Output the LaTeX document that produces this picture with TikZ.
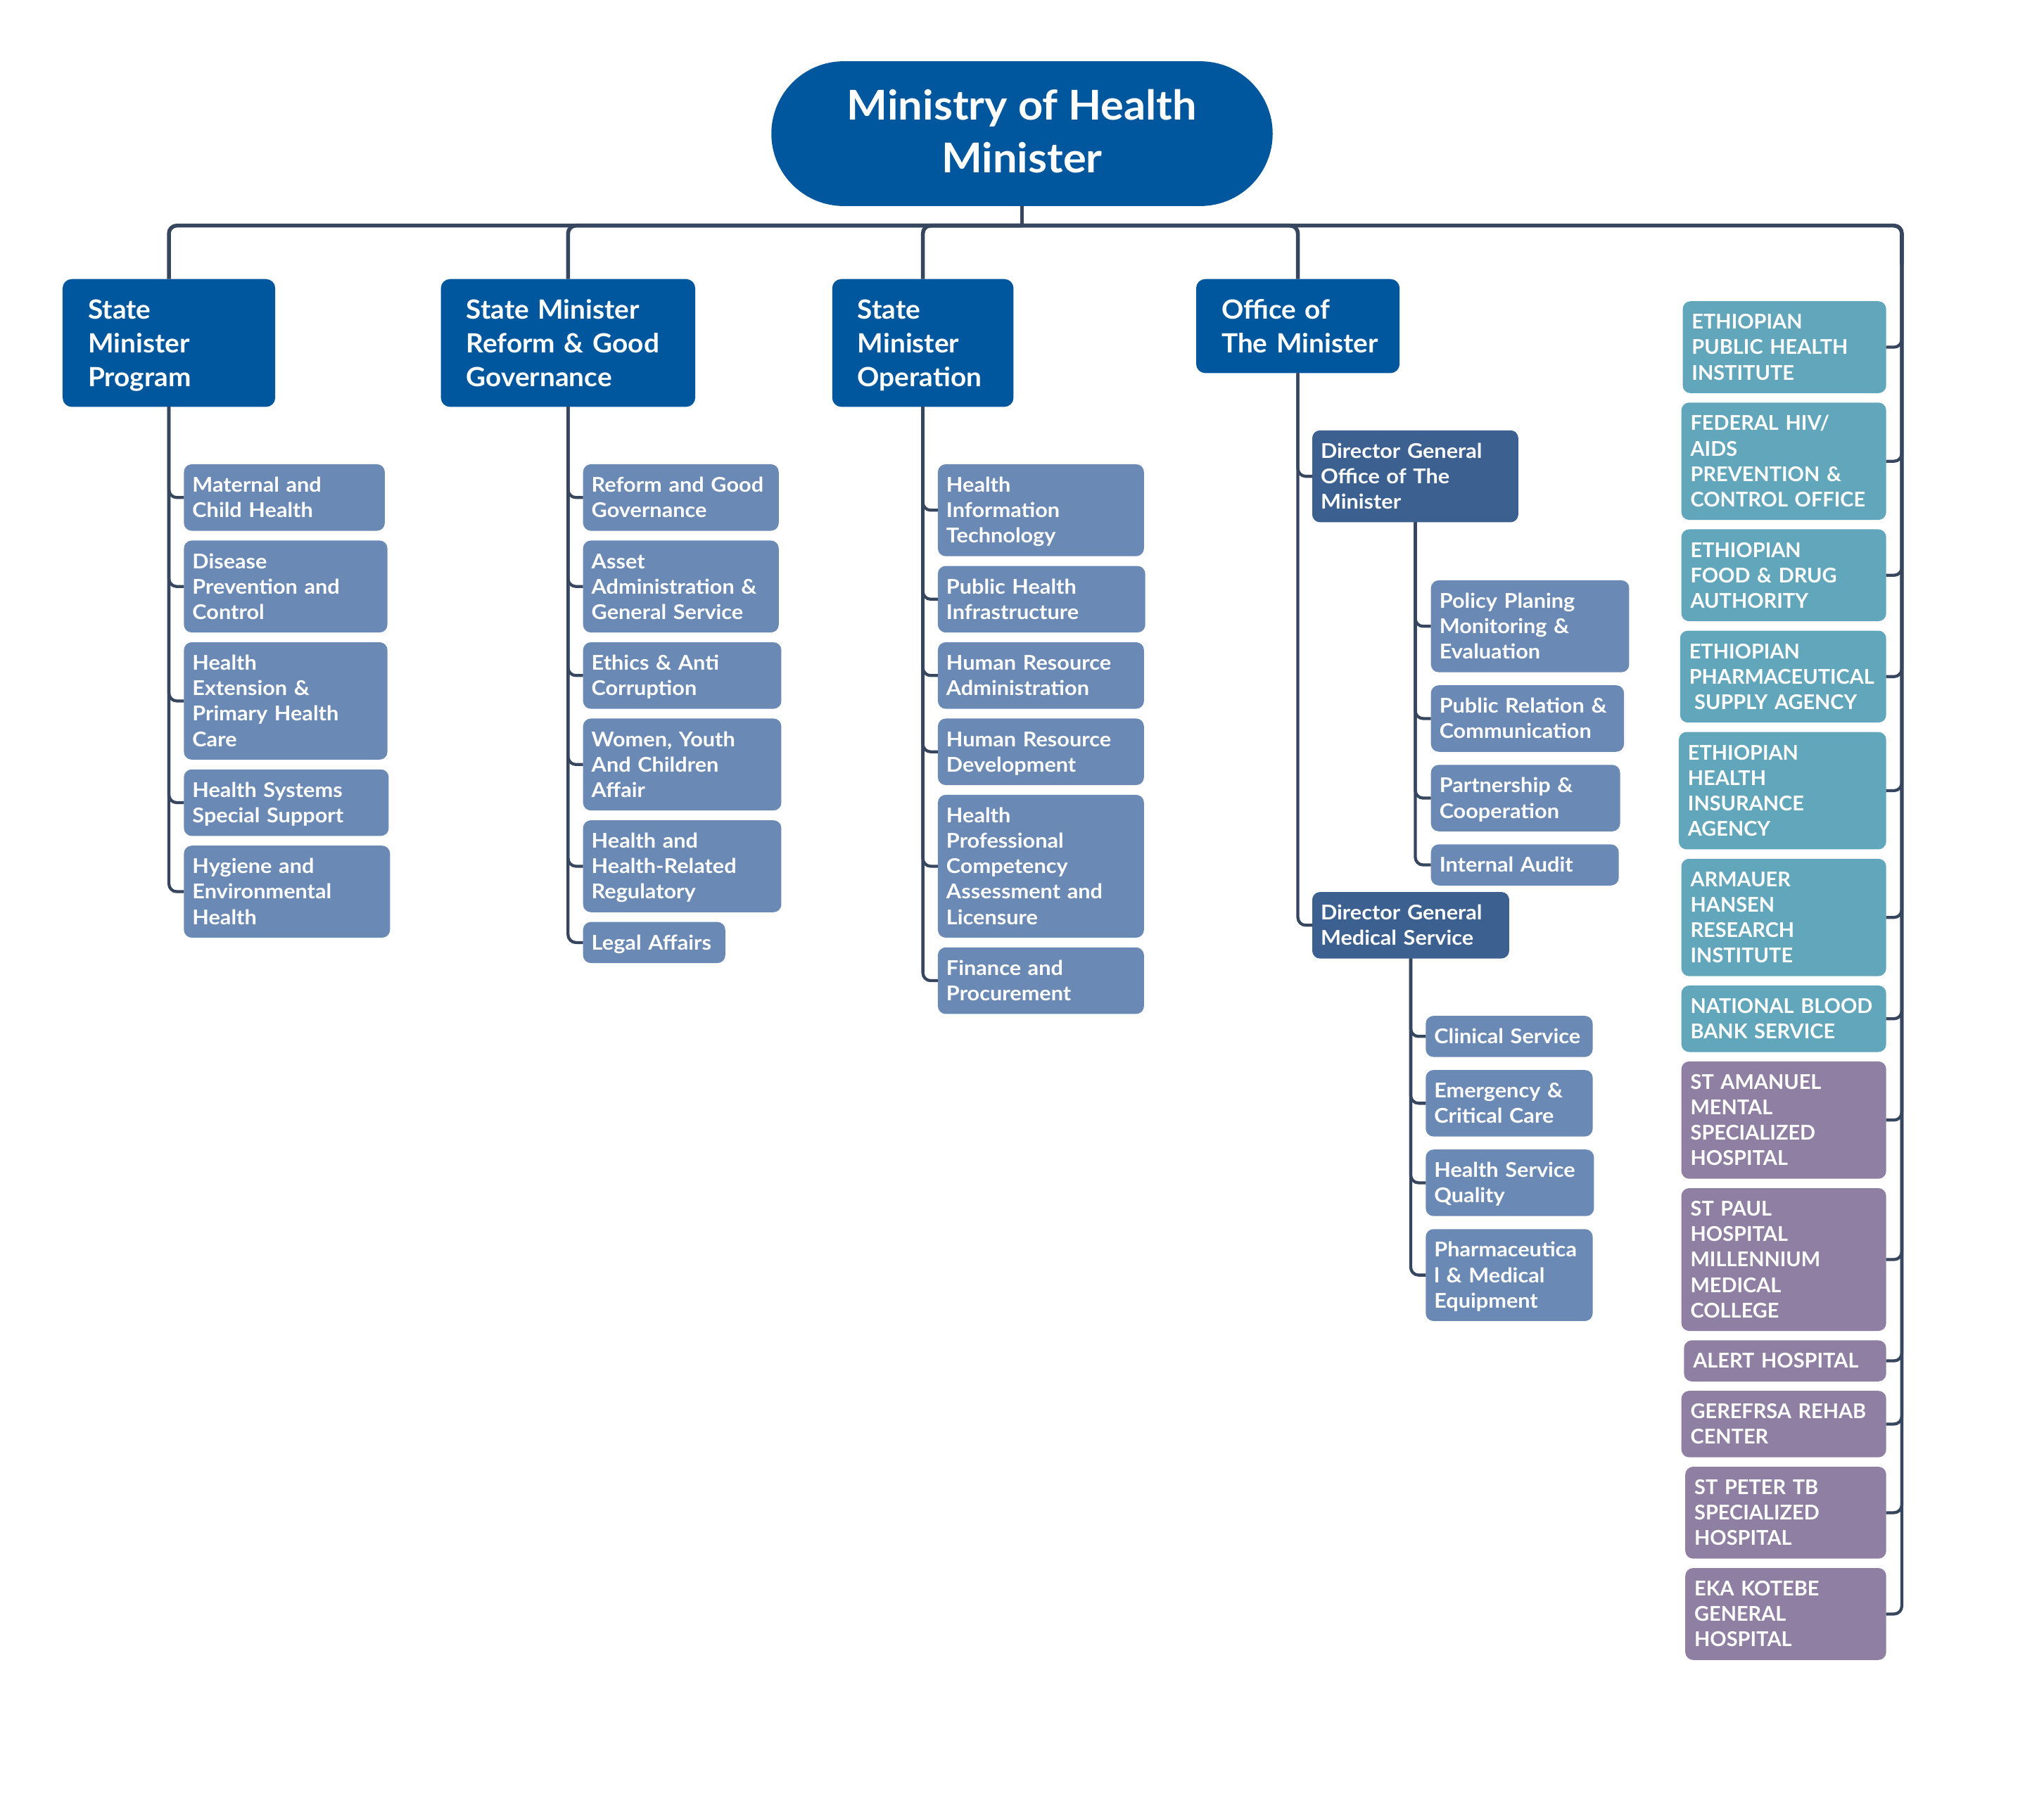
\documentclass[tikz,border=0pt]{standalone}
\usepackage{fontspec}
\setmainfont{Lato}
\newfontfamily\unitfam{Lato}[FakeStretch=1.06]
\newfontfamily\headfam{Lato}[FakeStretch=1.03]
\newfontfamily\rootfam{Lato}[FakeStretch=1.05]
\usetikzlibrary{positioning,shapes.misc}

\definecolor{topblue}{HTML}{01579D}
\definecolor{dgblue}{HTML}{3C6090}
\definecolor{unitblue}{HTML}{6A89B4}
\definecolor{agencyteal}{HTML}{62A6BB}
\definecolor{hospurple}{HTML}{8F80A3}
\definecolor{linecol}{HTML}{36465E}

\newcommand{\rootfont}{\rootfam\fontsize{31.5pt}{40pt}\selectfont\bfseries}
\newcommand{\headfont}{\headfam\fontsize{20.3pt}{25.9pt}\selectfont\bfseries}
\newcommand{\unitfont}{\unitfam\fontsize{15.6pt}{19.5pt}\selectfont\bfseries}
\newcommand{\capsfont}{\fontsize{15.6pt}{19.5pt}\selectfont\bfseries}
\newcommand{\rootstrut}{\rule[-4pt]{0pt}{37pt}}
\newcommand{\headstrut}{\rule[-4.1pt]{0pt}{22.8pt}}
\newcommand{\unitstrut}{\rule[-3.2pt]{0pt}{17.6pt}}
\newcommand{\nowrap}{\rightskip=0pt plus 1fil minus 40pt}

\tikzset{
  conn/.style={draw=linecol, line width=2.3pt, rounded corners=6pt},
  busconn/.style={conn, line width=3pt},
  ministry/.style={rounded rectangle, fill=topblue, text=white, minimum width=391pt,
    minimum height=111pt, align=center, font=\rootfont, outer sep=0pt,
    execute at begin node=\rootstrut, execute at end node=\rootstrut},
  head/.style={anchor=north west, fill=topblue, text=white, rounded corners=7pt, outer sep=0pt,
    inner xsep=19.5pt, inner ysep=11.7pt, font=\headfont, text width=#1-39pt,
    execute at begin node={\nowrap\headstrut}, execute at end node=\headstrut},
  unit/.style={anchor=north west, fill=unitblue, text=white, rounded corners=6pt, outer sep=0pt,
    inner xsep=6.5pt, inner ysep=6.95pt, font=\unitfont, text width=#1-13pt,
    execute at begin node={\nowrap\unitstrut}, execute at end node=\unitstrut},
  director/.style={unit=#1, fill=dgblue},
  agency/.style={unit=#1, anchor=north east, fill=agencyteal, inner xsep=7pt,
    text width=#1-14pt, font=\capsfont},
  hospital/.style={agency=#1, fill=hospurple},
}

\begin{document}
\begin{tikzpicture}[x=1pt, y=-1pt]
  \path[fill=white, use as bounding box] (0,0) rectangle (1567,1393.3);

  \node[ministry] (moh) at (783.5,102.5) {Ministry of Health\\Minister};
  \coordinate (bus) at ([yshift=-15pt]moh.south);

  % state ministers and office
  \node[head=163pt] (program) at (48,214) {State\\Minister\\Program};
  \node[head=195pt] (reform) at (338,214) {State Minister\\Reform \& Good\\Governance};
  \node[head=139pt] (operation) at (638,214) {State\\Minister\\Operation};
  \node[head=156pt] (office) at (917,214) {Office of\\The Minister};

  % program
  \node[unit=154pt] (mch) at (141,356) {Maternal and\\Child Health};
  \node[unit=156pt, below=7.5pt of mch.south west, anchor=north west] (dpc) {Disease\\Prevention and\\Control};
  \node[unit=156pt, below=7.5pt of dpc.south west, anchor=north west] (hep) {Health\\Extension \&\\Primary Health\\Care};
  \node[unit=157pt, below=7.5pt of hep.south west, anchor=north west] (hss) {Health Systems\\Special Support};
  \node[unit=158pt, below=7.5pt of hss.south west, anchor=north west] (hyg) {Hygiene and\\Environmental\\Health};

  % reform
  \node[unit=150pt] (rgg) at (447,356) {Reform and Good\\Governance};
  \node[unit=150pt, below=7.5pt of rgg.south west, anchor=north west] (asset) {Asset\\Administration \&\\General Service};
  \node[unit=152pt, below=7.5pt of asset.south west, anchor=north west] (ethics) {Ethics \& Anti\\Corruption};
  \node[unit=152pt, below=7.5pt of ethics.south west, anchor=north west] (women) {Women, Youth\\And Children\\Affair};
  \node[unit=152pt, below=7.5pt of women.south west, anchor=north west] (regul) {Health and\\Health-Related\\Regulatory};
  \node[unit=109pt, below=7.5pt of regul.south west, anchor=north west] (legal) {Legal Affairs};

  % operation
  \node[unit=158pt] (hit) at (719,356) {Health\\Information\\Technology};
  \node[unit=159pt, below=7.5pt of hit.south west, anchor=north west] (phi) {Public Health\\Infrastructure};
  \node[unit=158pt, below=7.5pt of phi.south west, anchor=north west] (hra) {Human Resource\\Administration};
  \node[unit=158pt, below=7.5pt of hra.south west, anchor=north west] (hrd) {Human Resource\\Development};
  \node[unit=158pt, below=7.5pt of hrd.south west, anchor=north west] (hpc) {Health\\Professional\\Competency\\Assessment and\\Licensure};
  \node[unit=158pt, below=7.5pt of hpc.south west, anchor=north west] (fin) {Finance and\\Procurement};

  % office of the minister
  \node[director=158pt] (dgoffice) at (1006,330) {Director General\\Office of The\\Minister};
  \node[unit=152pt] (policy) at (1097,445) {Policy Planing\\Monitoring \&\\Evaluation};
  \node[unit=148pt, below=10pt of policy.south west, anchor=north west] (pubrel) {Public Relation \&\\Communication};
  \node[unit=145pt, below=10pt of pubrel.south west, anchor=north west] (partner) {Partnership \&\\Cooperation};
  \node[unit=144pt, below=10pt of partner.south west, anchor=north west] (audit) {Internal Audit};
  \node[director=151pt] (dgmed) at (1006,684) {Director General\\Medical Service};
  \node[unit=128pt] (clinical) at (1093,779) {Clinical Service};
  \node[unit=128pt, below=10pt of clinical.south west, anchor=north west] (emerg) {Emergency \&\\Critical Care};
  \node[unit=129pt, below=10pt of emerg.south west, anchor=north west] (quality) {Health Service\\Quality};
  \node[unit=128pt, below=10pt of quality.south west, anchor=north west] (pharma) {Pharmaceutica\\l \& Medical\\Equipment};

  % agencies and hospitals
  \node[agency=156pt] (ephi) at (1446,231) {ETHIOPIAN\\PUBLIC HEALTH\\INSTITUTE};
  \node[agency=157pt, below=7.2pt of ephi.south east, anchor=north east] (hapco) {FEDERAL HIV/\\AIDS\\PREVENTION \&\\CONTROL OFFICE};
  \node[agency=157pt, below=7.2pt of hapco.south east, anchor=north east] (efda) {ETHIOPIAN\\FOOD \& DRUG\\AUTHORITY};
  \node[agency=158pt, below=7.2pt of efda.south east, anchor=north east] (epsa) {ETHIOPIAN\\PHARMACEUTICAL\\\hspace*{4pt}SUPPLY AGENCY};
  \node[agency=159pt, below=7.2pt of epsa.south east, anchor=north east] (ehia) {ETHIOPIAN\\HEALTH\\INSURANCE\\AGENCY};
  \node[agency=157pt, below=7.2pt of ehia.south east, anchor=north east] (ahri) {ARMAUER\\HANSEN\\RESEARCH\\INSTITUTE};
  \node[agency=157pt, below=7.2pt of ahri.south east, anchor=north east] (nbbs) {NATIONAL BLOOD\\BANK SERVICE};
  \node[hospital=157pt, below=7.2pt of nbbs.south east, anchor=north east] (amanuel) {ST AMANUEL\\MENTAL\\SPECIALIZED\\HOSPITAL};
  \node[hospital=157pt, below=7.2pt of amanuel.south east, anchor=north east] (paul) {ST PAUL\\HOSPITAL\\MILLENNIUM\\MEDICAL\\COLLEGE};
  \node[hospital=155pt, below=7.2pt of paul.south east, anchor=north east] (alert) {ALERT HOSPITAL};
  \node[hospital=157pt, below=7.2pt of alert.south east, anchor=north east] (gerefrsa) {GEREFRSA REHAB\\CENTER};
  \node[hospital=154pt, below=7.2pt of gerefrsa.south east, anchor=north east] (peter) {ST PETER TB\\SPECIALIZED\\HOSPITAL};
  \node[hospital=154pt, below=7.2pt of peter.south east, anchor=north east] (kotebe) {EKA KOTEBE\\GENERAL\\HOSPITAL};

  % connectors
  \draw[conn] (moh.south) -- (bus);
  \draw[busconn] (bus) -| (program.north);
  \draw[busconn] (bus) -| (reform.north);
  \draw[busconn] (bus) -| (operation.north);
  \draw[busconn] (bus) -| (office.north);
  \draw[busconn] (bus) -| ([xshift=12pt,yshift=28pt]ephi.north east);

  \draw[conn] (program.south) |- (mch.west);
  \draw[conn] (program.south) |- (dpc.west);
  \draw[conn] (program.south) |- (hep.west);
  \draw[conn] (program.south) |- (hss.west);
  \draw[conn] (program.south) |- (hyg.west);

  \draw[conn] (reform.south) |- (rgg.west);
  \draw[conn] (reform.south) |- (asset.west);
  \draw[conn] (reform.south) |- (ethics.west);
  \draw[conn] (reform.south) |- (women.west);
  \draw[conn] (reform.south) |- (regul.west);
  \draw[conn] (reform.south) |- (legal.west);

  \draw[conn] (operation.south) |- (hit.west);
  \draw[conn] (operation.south) |- (phi.west);
  \draw[conn] (operation.south) |- (hra.west);
  \draw[conn] (operation.south) |- (hrd.west);
  \draw[conn] (operation.south) |- (hpc.west);
  \draw[conn] (operation.south) |- (fin.west);

  \draw[conn] (office.south) |- (dgoffice.west);
  \draw[conn] (office.south) |- (dgmed.west);
  \draw[conn] (dgoffice.south) |- (policy.west);
  \draw[conn] (dgoffice.south) |- (pubrel.west);
  \draw[conn] (dgoffice.south) |- (partner.west);
  \draw[conn] (dgoffice.south) |- (audit.west);
  \draw[conn] (dgmed.south) |- (clinical.west);
  \draw[conn] (dgmed.south) |- (emerg.west);
  \draw[conn] (dgmed.south) |- (quality.west);
  \draw[conn] (dgmed.south) |- (pharma.west);

  \draw[conn] (bus) -| ([xshift=12pt]ephi.east) -- (ephi.east);
  \draw[conn] (bus) -| ([xshift=12pt]hapco.east) -- (hapco.east);
  \draw[conn] (bus) -| ([xshift=12pt]efda.east) -- (efda.east);
  \draw[conn] (bus) -| ([xshift=12pt]epsa.east) -- (epsa.east);
  \draw[conn] (bus) -| ([xshift=12pt]ehia.east) -- (ehia.east);
  \draw[conn] (bus) -| ([xshift=12pt]ahri.east) -- (ahri.east);
  \draw[conn] (bus) -| ([xshift=12pt]nbbs.east) -- (nbbs.east);
  \draw[conn] (bus) -| ([xshift=12pt]amanuel.east) -- (amanuel.east);
  \draw[conn] (bus) -| ([xshift=12pt]paul.east) -- (paul.east);
  \draw[conn] (bus) -| ([xshift=12pt]alert.east) -- (alert.east);
  \draw[conn] (bus) -| ([xshift=12pt]gerefrsa.east) -- (gerefrsa.east);
  \draw[conn] (bus) -| ([xshift=12pt]peter.east) -- (peter.east);
  \draw[conn] (bus) -| ([xshift=12pt]kotebe.east) -- (kotebe.east);
\end{tikzpicture}
\end{document}
